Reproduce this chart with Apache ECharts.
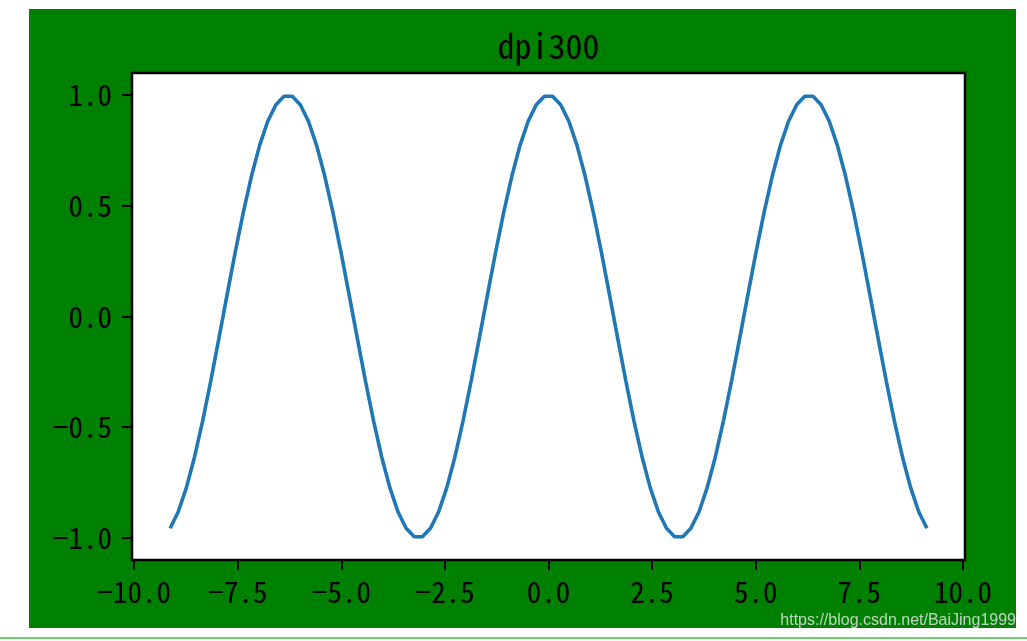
<!DOCTYPE html>
<html>
<head>
<meta charset="utf-8">
<script src="https://cdn.jsdelivr.net/npm/echarts@6/dist/echarts.min.js"></script>
<style>
html,body{margin:0;padding:0;background:#ffffff;}
#chart{width:1027px;height:641px;}
</style>
</head>
<body>
<div id="chart"></div>
<script>
const titleText = 'dpi300';
const watermarkText = 'https://blog.csdn.net/BaiJing1999';
const xTicks = [-10, -7.5, -5, -2.5, 0, 2.5, 5, 7.5, 10];
const yTicks = [-1, -0.5, 0, 0.5, 1];
const xValues = [
  -9.1303, -8.9339, -8.7376, -8.5412, -8.3449, -8.1485, -7.9522, -7.7558, -7.5595, -7.3631,
  -7.1668, -6.9704, -6.7741, -6.5777, -6.3814, -6.1850, -5.9887, -5.7923, -5.5960, -5.3996,
  -5.2033, -5.0069, -4.8106, -4.6142, -4.4179, -4.2215, -4.0252, -3.8288, -3.6325, -3.4361,
  -3.2398, -3.0434, -2.8471, -2.6507, -2.4544, -2.2580, -2.0617, -1.8653, -1.6690, -1.4726,
  -1.2763, -1.0799, -0.8836, -0.6872, -0.4909, -0.2945, -0.0982,
  0.0982, 0.2945, 0.4909, 0.6872, 0.8836, 1.0799, 1.2763, 1.4726, 1.6690, 1.8653,
  2.0617, 2.2580, 2.4544, 2.6507, 2.8471, 3.0434, 3.2398, 3.4361, 3.6325, 3.8288,
  4.0252, 4.2215, 4.4179, 4.6142, 4.8106, 5.0069, 5.2033, 5.3996, 5.5960, 5.7923,
  5.9887, 6.1850, 6.3814, 6.5777, 6.7741, 6.9704, 7.1668, 7.3631, 7.5595, 7.7558,
  7.9522, 8.1485, 8.3449, 8.5412, 8.7376, 8.9339, 9.1303
];
const yValues = [
  -0.9569, -0.8819, -0.7730, -0.6344, -0.4714, -0.2903, -0.0980, 0.0980, 0.2903, 0.4714,
  0.6344, 0.7730, 0.8819, 0.9569, 0.9952, 0.9952, 0.9569, 0.8819, 0.7730, 0.6344,
  0.4714, 0.2903, 0.0980, -0.0980, -0.2903, -0.4714, -0.6344, -0.7730, -0.8819, -0.9569,
  -0.9952, -0.9952, -0.9569, -0.8819, -0.7730, -0.6344, -0.4714, -0.2903, -0.0980, 0.0980,
  0.2903, 0.4714, 0.6344, 0.7730, 0.8819, 0.9569, 0.9952,
  0.9952, 0.9569, 0.8819, 0.7730, 0.6344, 0.4714, 0.2903, 0.0980, -0.0980, -0.2903,
  -0.4714, -0.6344, -0.7730, -0.8819, -0.9569, -0.9952, -0.9952, -0.9569, -0.8819, -0.7730,
  -0.6344, -0.4714, -0.2903, -0.0980, 0.0980, 0.2903, 0.4714, 0.6344, 0.7730, 0.8819,
  0.9569, 0.9952, 0.9952, 0.9569, 0.8819, 0.7730, 0.6344, 0.4714, 0.2903, 0.0980,
  -0.0980, -0.2903, -0.4714, -0.6344, -0.7730, -0.8819, -0.9569
];

const FONT = "'Noto Sans Mono CJK SC', 'Noto Sans CJK SC', 'DejaVu Sans Mono', monospace";
const fmt = v => {
  const s = Math.abs(v).toFixed(1);
  return (v < 0 ? '\u2212' : '') + s;
};

const chart = echarts.init(document.getElementById('chart'), null, {renderer: 'canvas'});
chart.setOption({
  animation: false,
  backgroundColor: '#ffffff',
  graphic: [
    {type: 'rect', z: -10, silent: true, shape: {x: 29, y: 9, width: 987, height: 619}, style: {fill: '#008000'}},
    {type: 'rect', z: -10, silent: true, shape: {x: 0, y: 637, width: 1027, height: 2}, style: {fill: '#6fcf6f'}},
    {type: 'text', z: 10, silent: true, x: 548.5, y: 46, style: {text: titleText, font: "34px " + FONT, fill: '#000000', align: 'center', verticalAlign: 'middle'}},
    {type: 'text', z: 10, silent: true, x: 1016, y: 621, style: {text: watermarkText, font: "16px 'Liberation Sans', Arial, sans-serif", fill: 'rgba(225,225,225,0.85)', align: 'right', verticalAlign: 'middle'}}
  ],
  grid: {
    left: 132, right: 62, top: 73, bottom: 81,
    show: true, backgroundColor: '#ffffff', borderColor: '#000000', borderWidth: 2.5,
    outerBoundsMode: 'none', containLabel: false
  },
  xAxis: {
    type: 'value', min: -10.05, max: 10.05,
    axisLine: {show: false, onZero: false},
    splitLine: {show: false},
    axisTick: {show: true, inside: false, length: 10, lineStyle: {color: '#000000', width: 2}, customValues: xTicks},
    axisLabel: {show: true, margin: 17, color: '#000000', fontSize: 29, fontFamily: FONT, customValues: xTicks, formatter: fmt}
  },
  yAxis: {
    type: 'value', min: -1.1, max: 1.1,
    axisLine: {show: false, onZero: false},
    splitLine: {show: false},
    axisTick: {show: true, inside: false, length: 10, lineStyle: {color: '#000000', width: 2}, customValues: yTicks},
    axisLabel: {show: true, margin: 20, color: '#000000', fontSize: 29, fontFamily: FONT, customValues: yTicks, formatter: fmt}
  },
  series: [{
    type: 'line',
    data: xValues.map((x, i) => [x, yValues[i]]),
    showSymbol: false,
    symbol: 'none',
    clip: false,
    lineStyle: {color: '#1f77b4', width: 3.6},
    itemStyle: {color: '#1f77b4'}
  }]
});
</script>
</body>
</html>
